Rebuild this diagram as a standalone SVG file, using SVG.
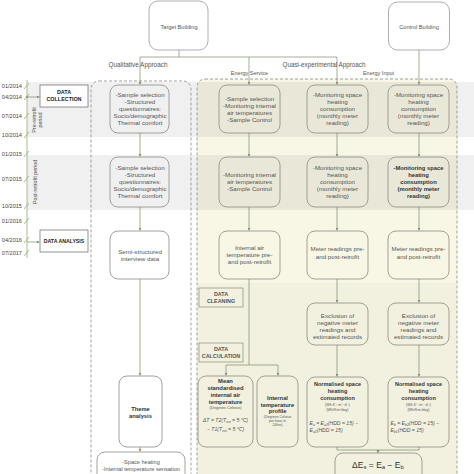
<svg xmlns="http://www.w3.org/2000/svg" width="474" height="474" viewBox="0 0 474 474">
<defs>
<style>
text{font-family:"Liberation Sans",Arial,sans-serif;text-anchor:middle;fill:#555}
.t{font-size:6.2px}
.b{font-size:5.8px;font-weight:bold;fill:#333}
.s{font-size:4px}
.f{font-size:5.1px;font-style:italic}
.d{font-size:5.6px;text-anchor:end;fill:#444}
.lab{font-size:5.4px;font-weight:bold;fill:#222}
.lab2{font-size:5.4px;font-weight:bold;fill:#555}
.box{fill:none;stroke:#8a8a80;stroke-width:0.8}
.top{fill:#fff;stroke:#999;stroke-width:0.8}
.lbox{fill:#fff;stroke:#666;stroke-width:0.7}
.lbox2{fill:none;stroke:#8a8a70;stroke-width:0.7}
.dash{fill:none;stroke:#888;stroke-width:0.8;stroke-dasharray:3 2}
.c{fill:none;stroke:#7d8c68;stroke-width:0.7}
.tl{fill:none;stroke:#8fae6e;stroke-width:0.8}
</style>
<marker id="ah" markerWidth="4" markerHeight="4" refX="3" refY="2" orient="auto" markerUnits="userSpaceOnUse"><path d="M0,0.5 L3,2 L0,3.5 z" fill="#7d8c68"/></marker>
</defs>
<rect width="474" height="474" fill="#fff"/>
<g id="background">
<rect x="197" y="79" width="260" height="430" rx="8" fill="#f8f7e6"/>
<rect x="27" y="82" width="447" height="55" fill="#000" fill-opacity="0.06"/>
<rect x="27" y="155" width="447" height="55" fill="#000" fill-opacity="0.06"/>
<rect x="197.5" y="283" width="259" height="200" fill="#000" fill-opacity="0.025"/>
<rect x="91" y="81" width="100" height="430" rx="8" class="dash"/>
<rect x="197" y="79" width="260" height="430" rx="8" class="dash"/>
</g>
<g id="timeline">
<path class="tl" d="M27,80 V258"/>
<path class="tl" d="M24,89 L29,83 M24,100 L29,94 M24,119 L29,113 M24,138 L29,132 M24,157 L29,151 M24,182 L29,176 M24,209 L29,203 M24,224 L29,218 M24,243 L29,237 M24,256 L29,250"/>
<text class="d" x="22" y="88">01/2014</text>
<text class="d" x="22" y="99">04/2014</text>
<text class="d" x="22" y="118">07/2014</text>
<text class="d" x="22" y="137">10/2014</text>
<text class="d" x="22" y="156">01/2015</text>
<text class="d" x="22" y="181">07/2015</text>
<text class="d" x="22" y="208">10/2015</text>
<text class="d" x="22" y="223">01/2016</text>
<text class="d" x="22" y="242">04/2016</text>
<text class="d" x="22" y="255">07/2017</text>
<text class="lab2" style="font-weight:normal" transform="translate(36,120) rotate(-90)"><tspan x="0" y="0">Pre-retrofit</tspan><tspan x="0" y="6">period</tspan></text>
<text class="lab2" style="font-weight:normal" transform="translate(37,182) rotate(-90)">Post-retrofit period</text>
</g>
<g id="connectors">
<path class="c" d="M179,50 V57 M140,57 H337"/>
<path class="c" d="M140,57 V84.5" marker-end="url(#ah)"/>
<path class="c" d="M249,57 V84.5" marker-end="url(#ah)"/>
<path class="c" d="M337,57 V84.5" marker-end="url(#ah)"/>
<path class="c" d="M419,50 V84.5" marker-end="url(#ah)"/>
<path class="c" d="M140,133 V156.5" marker-end="url(#ah)"/>
<path class="c" d="M140,207 V230.5" marker-end="url(#ah)"/>
<path class="c" d="M140,279 V375.5" marker-end="url(#ah)"/>
<path class="c" d="M140,447 V451.5" marker-end="url(#ah)"/>
<path class="c" d="M249,133 V156.5" marker-end="url(#ah)"/>
<path class="c" d="M249,207 V230.5" marker-end="url(#ah)"/>
<path class="c" d="M249,279 V365 M226,365 H278"/>
<path class="c" d="M226,365 V375.5" marker-end="url(#ah)"/>
<path class="c" d="M278,365 V375.5" marker-end="url(#ah)"/>
<path class="c" d="M337,133 V156.5" marker-end="url(#ah)"/>
<path class="c" d="M337,207 V230.5" marker-end="url(#ah)"/>
<path class="c" d="M337,279 V302.5" marker-end="url(#ah)"/>
<path class="c" d="M337,345 V376.5" marker-end="url(#ah)"/>
<path class="c" d="M419,133 V156.5" marker-end="url(#ah)"/>
<path class="c" d="M419,207 V230.5" marker-end="url(#ah)"/>
<path class="c" d="M419,279 V302.5" marker-end="url(#ah)"/>
<path class="c" d="M419,345 V376.5" marker-end="url(#ah)"/>
<path class="c" d="M337,447 V450 H419 V447"/>
<path class="c" d="M378,450 V453" marker-end="url(#ah)"/>
<path class="c" d="M27,97 H39.5" marker-end="url(#ah)"/>
<path class="c" d="M27,242 H39.5" marker-end="url(#ah)"/>
<circle cx="27" cy="97" r="0.9" fill="#7d8c68"/>
</g>
<g id="labels">
<text class="t" x="138" y="67" style="font-size:6.4px">Qualitative Approach</text>
<text class="t" x="324" y="67" style="font-size:6.3px">Quasi-experimental Approach</text>
<text class="t" x="249.5" y="75" style="font-size:5.5px">Energy Service</text>
<text class="t" x="378.5" y="75" style="font-size:5.5px">Energy Input</text>
</g>
<g id="target-building">
<rect class="top" x="149" y="1" width="59" height="49" rx="9"/>
<text class="t" x="179" y="29" style="font-size:5.6px">Target Building</text>
</g>
<g id="control-building">
<rect class="top" x="388.5" y="2" width="61" height="48" rx="9"/>
<text class="t" x="419" y="29" style="font-size:5.6px">Control Building</text>
</g>
<g id="data-collection">
<rect class="lbox" x="40" y="85" width="48" height="22"/>
<text class="lab" x="64" y="94">DATA</text>
<text class="lab" x="64" y="101">COLLECTION</text>
</g>
<g id="data-analysis">
<rect class="lbox" x="40" y="230" width="48" height="22"/>
<text class="lab" x="64" y="243" style="font-size:5.2px">DATA ANALYSIS</text>
</g>
<g id="q1">
<rect class="box" x="110" y="85" width="59" height="48" rx="8"/>
<text class="t" x="140"><tspan x="140" y="97">-Sample selection</tspan><tspan x="140" y="104">-Structured</tspan><tspan x="140" y="111">questionnaires:</tspan><tspan x="140" y="118">Socio/demographic</tspan><tspan x="140" y="125">Thermal comfort</tspan></text>
</g>
<g id="q2">
<rect class="box" x="110" y="157" width="59" height="50" rx="8"/>
<text class="t" x="140"><tspan x="140" y="170">-Sample selection</tspan><tspan x="140" y="177">-Structured</tspan><tspan x="140" y="184">questionnaires:</tspan><tspan x="140" y="191">Socio/demographic</tspan><tspan x="140" y="198">Thermal comfort</tspan></text>
</g>
<g id="q3">
<rect class="box" x="110" y="231" width="59" height="48" rx="8"/>
<text class="t" x="140"><tspan x="140" y="254">Semi-structured</tspan><tspan x="140" y="261">interview data</tspan></text>
</g>
<g id="q4">
<rect class="box" x="119" y="376" width="43" height="71" rx="8"/>
<text class="b" x="140.5"><tspan x="140.5" y="411">Theme</tspan><tspan x="140.5" y="418">analysis</tspan></text>
</g>
<g id="q5">
<rect class="box" x="97" y="452" width="88" height="40" rx="8"/>
<text class="t" x="141" style="font-size:5.6px"><tspan x="141" y="464">-Space heating</tspan><tspan x="141" y="471">-Internal temperature sensation</tspan></text>
</g>
<g id="e1">
<rect class="box" x="219" y="85" width="61" height="48" rx="8"/>
<text class="t" x="249.5"><tspan x="249.5" y="101">-Sample selection</tspan><tspan x="249.5" y="108">-Monitoring internal</tspan><tspan x="249.5" y="115">air temperatures</tspan><tspan x="249.5" y="122">-Sample Control</tspan></text>
</g>
<g id="e2">
<rect class="box" x="219" y="157" width="61" height="50" rx="8"/>
<text class="t" x="249.5"><tspan x="249.5" y="177">-Monitoring internal</tspan><tspan x="249.5" y="184">air temperatures</tspan><tspan x="249.5" y="191">-Sample Control</tspan></text>
</g>
<g id="e3">
<rect class="box" x="219" y="231" width="61" height="48" rx="8"/>
<text class="t" x="249.5"><tspan x="249.5" y="250">Internal air</tspan><tspan x="249.5" y="257">temperature pre-</tspan><tspan x="249.5" y="264">and post-retrofit</tspan></text>
</g>
<g id="data-cleaning">
<rect class="lbox2" x="199" y="288" width="44" height="19"/>
<text class="lab2" x="221" y="296">DATA</text>
<text class="lab2" x="221" y="303">CLEANING</text>
</g>
<g id="data-calculation">
<rect class="lbox2" x="199" y="343" width="44" height="19"/>
<text class="lab2" x="221" y="351">DATA</text>
<text class="lab2" x="221" y="358">CALCULATION</text>
</g>
<g id="c1">
<rect class="box" x="198" y="376" width="55" height="71" rx="8"/>
<text class="b" x="225.5"><tspan x="225.5" y="383">Mean</tspan><tspan x="225.5" y="390">standardised</tspan><tspan x="225.5" y="397">internal air</tspan><tspan x="225.5" y="404">temperature</tspan></text>
<text class="s" x="225.5" y="409">(Degrees Celsius)</text>
<text class="f" x="225.5" y="422">ΔT = T2(T<tspan font-size="3.4" dy="1">ext</tspan><tspan dy="-1"> = 5 °C)</tspan></text>
<text class="f" x="225.5" y="431">− T1(T<tspan font-size="3.4" dy="1">ext</tspan><tspan dy="-1"> = 5 °C)</tspan></text>
</g>
<g id="c2">
<rect class="box" x="257" y="376" width="41" height="71" rx="8"/>
<text class="b" x="277.5"><tspan x="277.5" y="400">Internal</tspan><tspan x="277.5" y="406.5">temperature</tspan><tspan x="277.5" y="413">profile</tspan></text>
<text class="s" x="277.5" style="font-size:3.6px"><tspan x="277.5" y="418">(Degrees Celsius</tspan><tspan x="277.5" y="422">per hour in</tspan><tspan x="277.5" y="426">24hrs)</tspan></text>
</g>
<g id="i1">
<rect class="box" x="307" y="85" width="61" height="48" rx="8"/>
<text class="t" x="337.5"><tspan x="337.5" y="97">-Monitoring space</tspan><tspan x="337.5" y="104">heating</tspan><tspan x="337.5" y="111">consumption</tspan><tspan x="337.5" y="118">(monthly meter</tspan><tspan x="337.5" y="125">reading)</tspan></text>
</g>
<g id="k1">
<rect class="box" x="388" y="85" width="61" height="48" rx="8"/>
<text class="t" x="418.5"><tspan x="418.5" y="97">-Monitoring space</tspan><tspan x="418.5" y="104">heating</tspan><tspan x="418.5" y="111">consumption</tspan><tspan x="418.5" y="118">(monthly meter</tspan><tspan x="418.5" y="125">reading)</tspan></text>
</g>
<g id="i2">
<rect class="box" x="307" y="157" width="61" height="50" rx="8"/>
<text class="t" x="337.5"><tspan x="337.5" y="170">-Monitoring space</tspan><tspan x="337.5" y="177">heating</tspan><tspan x="337.5" y="184">consumption</tspan><tspan x="337.5" y="191">(monthly meter</tspan><tspan x="337.5" y="198">reading)</tspan></text>
</g>
<g id="k2">
<rect class="box" x="388" y="157" width="61" height="50" rx="8"/>
<text class="b" x="418.5"><tspan x="418.5" y="170">-Monitoring space</tspan><tspan x="418.5" y="177">heating</tspan><tspan x="418.5" y="184">consumption</tspan><tspan x="418.5" y="191">(monthly meter</tspan><tspan x="418.5" y="198">reading)</tspan></text>
</g>
<g id="i3">
<rect class="box" x="307" y="231" width="61" height="48" rx="8"/>
<text class="t" x="337.5"><tspan x="337.5" y="251">Meter readings pre-</tspan><tspan x="337.5" y="258.5">and post-retrofit</tspan></text>
</g>
<g id="k3">
<rect class="box" x="388" y="231" width="61" height="48" rx="8"/>
<text class="t" x="418.5"><tspan x="418.5" y="251">Meter readings pre-</tspan><tspan x="418.5" y="258.5">and post-retrofit</tspan></text>
</g>
<g id="i4">
<rect class="box" x="307" y="303" width="61" height="42" rx="8"/>
<text class="t" x="337.5"><tspan x="337.5" y="318">Exclusion of</tspan><tspan x="337.5" y="325">negative meter</tspan><tspan x="337.5" y="332">readings and</tspan><tspan x="337.5" y="339">estimated records</tspan></text>
</g>
<g id="k4">
<rect class="box" x="388" y="303" width="61" height="42" rx="8"/>
<text class="t" x="418.5"><tspan x="418.5" y="318">Exclusion of</tspan><tspan x="418.5" y="325">negative meter</tspan><tspan x="418.5" y="332">readings and</tspan><tspan x="418.5" y="339">estimated records</tspan></text>
</g>
<g id="i5">
<rect class="box" x="307" y="377" width="61" height="70" rx="8"/>
<text class="b" x="337.5" style="font-size:5.5px"><tspan x="337.5" y="386">Normalised space</tspan><tspan x="337.5" y="393">heating</tspan><tspan x="337.5" y="400">consumption</tspan></text>
<text class="s" x="337.5" style="font-size:3.6px"><tspan x="337.5" y="405.5">(Wh K⁻¹ m⁻² d⁻¹)</tspan><tspan x="337.5" y="410.5">(Wh/Km²/day)</tspan></text>
<text class="f" x="309.5" y="425" style="text-anchor:start">E<tspan font-size="3.4" dy="1">a</tspan><tspan dy="-1"> = E</tspan><tspan font-size="3.4" dy="1">a2</tspan><tspan dy="-1">(HDD = 15) −</tspan></text>
<text class="f" x="309.5" y="432" style="text-anchor:start">E<tspan font-size="3.4" dy="1">a1</tspan><tspan dy="-1">(HDD = 15)</tspan></text>
</g>
<g id="k5">
<rect class="box" x="388" y="377" width="61" height="70" rx="8"/>
<text class="b" x="418.5" style="font-size:5.5px"><tspan x="418.5" y="386">Normalised space</tspan><tspan x="418.5" y="393">heating</tspan><tspan x="418.5" y="400">consumption</tspan></text>
<text class="s" x="418.5" style="font-size:3.6px"><tspan x="418.5" y="405.5">(Wh K⁻¹ m⁻² d⁻¹)</tspan><tspan x="418.5" y="410.5">(Wh/Km²/day)</tspan></text>
<text class="f" x="390.5" y="425" style="text-anchor:start">E<tspan font-size="3.4" dy="1">b</tspan><tspan dy="-1"> = E</tspan><tspan font-size="3.4" dy="1">b2</tspan><tspan dy="-1">(HDD = 15) −</tspan></text>
<text class="f" x="390.5" y="432" style="text-anchor:start">E<tspan font-size="3.4" dy="1">b1</tspan><tspan dy="-1">(HDD = 15)</tspan></text>
</g>
<g id="delta">
<rect class="box" x="335" y="453" width="87" height="40" rx="8"/>
<text x="378" y="468" style="font-size:8.5px;fill:#333">ΔE<tspan font-size="6" dy="1.2">s</tspan><tspan dy="-1.2"> = E</tspan><tspan font-size="6" dy="1.2">a</tspan><tspan dy="-1.2"> − E</tspan><tspan font-size="6" dy="1.2">b</tspan></text>
</g>
</svg>
